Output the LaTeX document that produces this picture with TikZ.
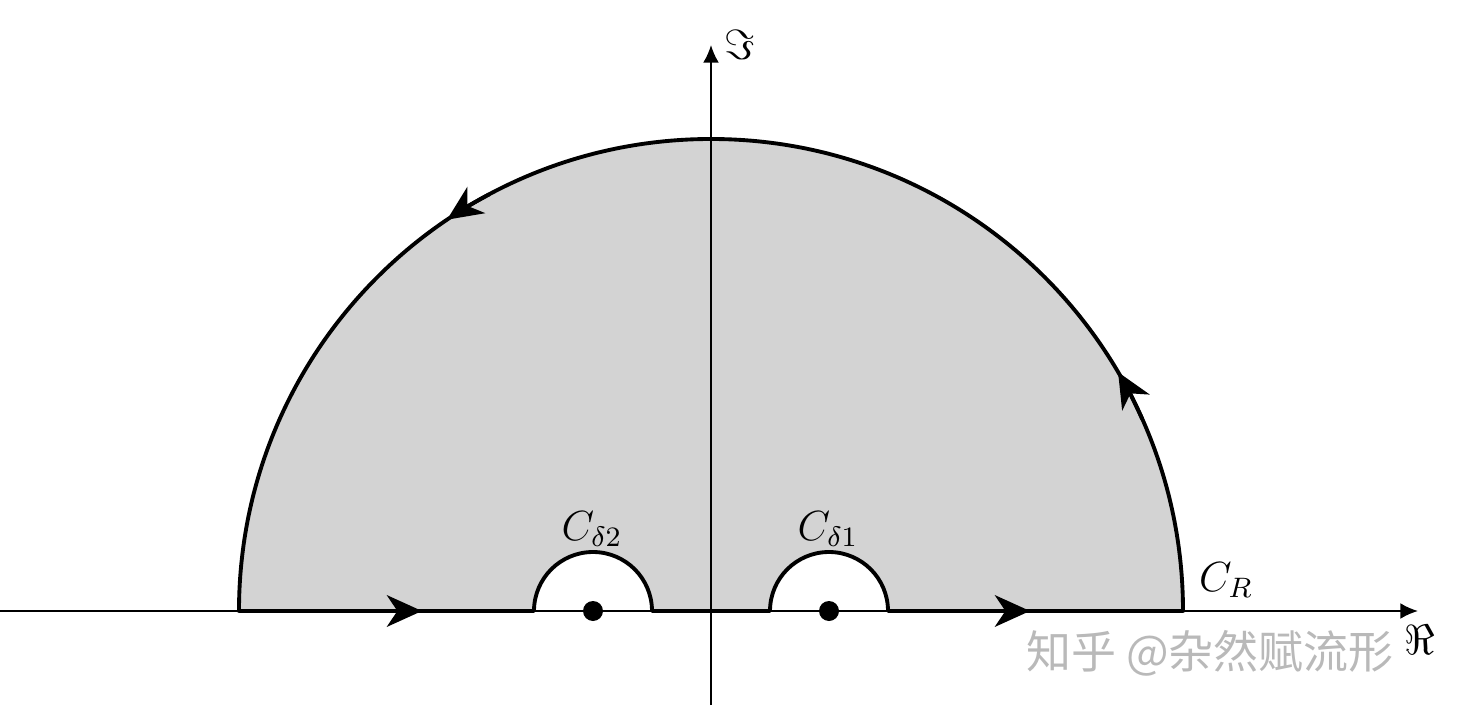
\documentclass[tikz,border=0pt]{standalone}
\usepackage{amsmath}
\usepackage{fontspec}
\newfontfamily\cjkfont{Noto Sans CJK SC}
\usetikzlibrary{arrows.meta}
\definecolor{areagray}{RGB}{211,211,211}
\definecolor{wmgray}{RGB}{185,185,185}
\tikzset{
  axisline/.style={line width=0.6pt, -{Latex[length=5pt,width=4.5pt]}},
  contour/.style={line width=1.1pt, line join=round},
  flowtip/.style={line width=1.1pt, -{Stealth[length=10pt,width=9pt,inset=3pt]}},
  lbl/.style={inner sep=0pt, font=\fontsize{12}{14}\selectfont},
  pole/.style={circle, fill=black, inner sep=0pt, minimum size=0.2cm},
}
\begin{document}
\begin{tikzpicture}
\useasboundingbox (-7.11,-1.02) rectangle (7.56,6.11);
\coordinate (O) at (0,0);
\coordinate (xl) at (-7.11,0);
\coordinate (xr) at (7.07,0);
\coordinate (yb) at (0,-0.94);
\coordinate (yt) at (0,5.66);
% shaded region
\fill[fill=areagray] (4.72,0) arc[start angle=0,end angle=180,radius=4.72] -- cycle;
\fill[fill=white] (-1.77,0) arc[start angle=180,end angle=0,radius=0.59] -- cycle;
\fill[fill=white] (0.59,0) arc[start angle=180,end angle=0,radius=0.59] -- cycle;
% axes
\draw[axisline] (xl) -- (xr);
\draw[axisline] (yb) -- (yt);
% contour
\draw[contour] (-4.72,0) -- (-1.77,0) arc[start angle=180,end angle=0,radius=0.59]
  -- (0.59,0) arc[start angle=180,end angle=0,radius=0.59]
  -- (4.72,0) arc[start angle=0,end angle=180,radius=4.72] -- cycle;
% direction arrows
\draw[flowtip] (-3.4,0) -- (-2.89,0);
\draw[flowtip] (2.7,0) -- (3.19,0);
\draw[flowtip] (24:4.72) arc[start angle=24,end angle=30.4,radius=4.72];
\draw[flowtip] (118:4.72) arc[start angle=118,end angle=124,radius=4.72];
% poles
\node[pole] (p2) at (-1.18,0) {};
\node[pole] (p1) at (1.18,0) {};
% labels
\node[lbl] (Cd2) at (-1.19,0.82) {$C_{\delta2}$};
\node[lbl] (Cd1) at (1.17,0.82) {$C_{\delta1}$};
\node[lbl] (CR) at (5.15,0.31) {$C_R$};
\node[lbl] (Im) at (0.29,5.66) {$\Im$};
\node[lbl] (Re) at (7.09,-0.29) {$\Re$};
\node[inner sep=0pt, text=wmgray, font=\cjkfont\fontsize{12.8}{14}\selectfont] (wm) at (4.99,-0.42) {知乎 @杂然赋流形};
\end{tikzpicture}
\end{document}
